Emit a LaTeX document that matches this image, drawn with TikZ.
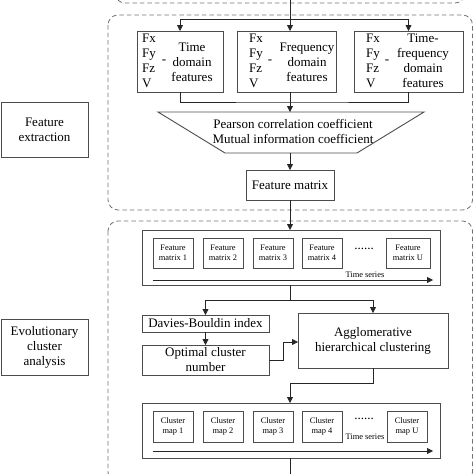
\documentclass[tikz,border=0pt]{standalone}
\usepackage{fontspec}
\setmainfont{Liberation Serif}
\usetikzlibrary{arrows.meta}
\newcommand{\bigtxt}{\fontsize{13}{15}\selectfont}
\newcommand{\smalltxt}{\fontsize{8.4}{10}\selectfont}
\tikzset{
	boxline/.style={draw=black!70, line width=0.9pt},
	box/.style={boxline, rectangle, inner sep=0pt, outer sep=0pt, align=center, font=\bigtxt},
	sbox/.style={boxline, rectangle, inner sep=0pt, outer sep=0pt, align=center, font=\smalltxt, minimum width=40pt, minimum height=30pt},
	txt/.style={inner sep=0pt, align=center, font=\bigtxt},
	conn/.style={draw=black!85, line width=0.8pt},
	arr/.style={conn, -{Triangle[length=6pt,width=6pt]}},
	region/.style={draw=black!55, line width=0.8pt, dash pattern=on 4.5pt off 3pt, rounded corners=10pt}
}
\begin{document}
\begin{tikzpicture}[x=1pt,y=-1pt]
	\useasboundingbox (0,0) rectangle (474,474);
	\clip (0,0) rectangle (474,474);
	% dashed regions
	\draw[region] (115,-14) -- (115,3) -- (465,3) -- (465,-14);
	\draw[region] (108,15) rectangle (472.5,210);
	\draw[region] (108,221) rectangle (472.5,482);
	% stage labels
	\node[box, minimum width=87pt, minimum height=55pt] (fe) at (44.5,129.5) {Feature\\extraction};
	\node[box, minimum width=87pt, minimum height=56pt] (eca) at (44.5,347) {Evolutionary\\cluster\\analysis};
	% feature boxes
	\node[box, minimum width=86pt, minimum height=61pt] (b1) at (180,61.5) {};
	\node[box, minimum width=99pt, minimum height=61pt] (b2) at (287,61.5) {};
	\node[box, minimum width=109pt, minimum height=61pt] (b3) at (408.5,61.5) {};
	\node[txt, anchor=west, align=left] (c1) at (142,60.5) {Fx\\Fy\\Fz\\V};
	\node[txt] (d1) at (164,62) {-};
	\node[txt] (t1) at (192,62) {Time\\domain\\features};
	\node[txt, anchor=west, align=left] (c2) at (249,60.5) {Fx\\Fy\\Fz\\V};
	\node[txt] (d2) at (270,62) {-};
	\node[txt] (t2) at (307,62) {Frequency\\domain\\features};
	\node[txt, anchor=west, align=left] (c3) at (366,60.5) {Fx\\Fy\\Fz\\V};
	\node[txt] (d3) at (387,62) {-};
	\node[txt] (t3) at (423,61) {Time-\\frequency\\domain\\features};
	% input split
	\coordinate (top) at (290,0);
	\coordinate (split) at (290,19);
	\draw[arr] (top) -- (top |- b2.north);
	\draw[conn] (split -| b1.north) -- (split -| b3.north);
	\draw[arr] (split -| b1.north) -- (b1.north);
	\draw[arr] (split -| b3.north) -- (b3.north);
	% correlation filter
	\coordinate (tz1) at (158,112);
	\coordinate (tz2) at (424,112);
	\coordinate (tz3) at (357,153);
	\coordinate (tz4) at (225,153);
	\draw[boxline] (tz1) -- (tz2) -- (tz3) -- (tz4) -- cycle;
	\node[txt] (corr) at (293,131) {Pearson correlation coefficient\\Mutual information coefficient};
	\coordinate (merge) at (290,102);
	\draw[conn] (b1.south) |- (merge) -| (b3.south);
	\draw[conn] (b2.south -| merge) -- (merge);
	\draw[arr] (merge) -- (merge |- tz1);
	\node[box, minimum width=88pt, minimum height=30pt] (fmat) at (290,185) {Feature matrix};
	\draw[arr] (merge |- tz4) -- (fmat.north);
	% feature matrix series
	\node[box, minimum width=298pt, minimum height=55pt] (fser) at (291,257.5) {};
	\draw[arr] (fmat.south) -- (fmat.south |- fser.north);
	\foreach \i/\x in {1/173,2/223,3/273,4/322}
		\node[sbox] (fm\i) at (\x,253) {Feature\\matrix \i};
	\node[sbox, minimum width=44pt] (fmU) at (408,253) {Feature\\matrix U};
	\node[inner sep=0pt, font=\bigtxt] (fdots) at (364,249) {......};
	\node[inner sep=0pt, font=\smalltxt] (fts) at (365,275) {Time series};
	\coordinate (fa1) at (153,280);
	\coordinate (fa2) at (433,280);
	\draw[arr] (fa1) -- (fa2);
	% clustering
	\node[box, minimum width=127pt, minimum height=17pt] (dbi) at (205.5,323.5) {Davies-Bouldin index};
	\node[box, minimum width=127pt, minimum height=30pt] (ocn) at (205.5,360) {Optimal cluster\\number};
	\node[box, minimum width=150pt, minimum height=55pt] (ahc) at (373,340.5) {Agglomerative\\hierarchical clustering};
	\coordinate (fork) at (290,300);
	\draw[conn] (fser.south -| fork) -- (fork);
	\draw[conn] (fork -| dbi.north) -- (fork -| ahc.north);
	\draw[arr] (fork -| dbi.north) -- (dbi.north);
	\draw[arr] (fork -| ahc.north) -- (ahc.north);
	\draw[arr] (dbi.south) -- (ocn.north);
	\draw[arr] (ocn.east) -- ++(14,0) |- (ahc.west |- 0,342);
	% cluster map series
	\node[box, minimum width=298pt, minimum height=55pt] (cser) at (291,430.5) {};
	\coordinate (join) at (290,383);
	\draw[conn] (ahc.south) |- (join);
	\draw[arr] (join) -- (join |- cser.north);
	\foreach \i/\x in {1/173,2/223,3/273,4/322}
		\node[sbox, minimum height=31pt] (cm\i) at (\x,426.5) {Cluster\\map \i};
	\node[sbox, minimum height=31pt] (cmU) at (407,426.5) {Cluster\\map U};
	\node[inner sep=0pt, font=\bigtxt] (cdots) at (364,419) {......};
	\node[inner sep=0pt, font=\smalltxt] (cts) at (365,437) {Time series};
	\coordinate (ca1) at (153,451);
	\coordinate (ca2) at (433,451);
	\draw[arr] (ca1) -- (ca2);
	\coordinate (out) at (290,474);
	\draw[conn] (cser.south -| out) -- (out);
\end{tikzpicture}
\end{document}
